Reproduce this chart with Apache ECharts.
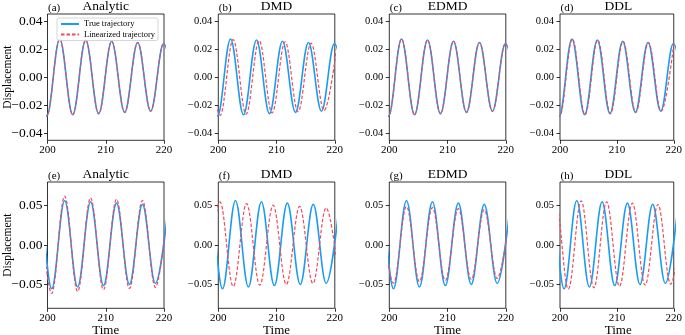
<!DOCTYPE html>
<html>
<head>
<meta charset="utf-8">
<script src="https://cdn.jsdelivr.net/npm/echarts@6/dist/echarts.min.js"></script>
<style>
  html, body { margin: 0; padding: 0; background: #fff; }
  #chart { width: 685px; height: 335px; }
</style>
</head>
<body>
<div id="chart"></div>
<script>
// panel texts
const titles = ['Analytic', 'DMD', 'EDMD', 'DDL', 'Analytic', 'DMD', 'EDMD', 'DDL'];
const tags = ['(a)', '(b)', '(c)', '(d)', '(e)', '(f)', '(g)', '(h)'];
const xTicks = [200, 210, 220];
const topTicks = [-0.04, -0.02, 0, 0.02, 0.04];
const bottomTicks = [-0.05, 0, 0.05];

// peaks and troughs, [time, displacement]
// (the library's smoothing draws the curve between them)
const topTrue = [[197.64, 0.0281], [199.87, -0.0277], [202.10, 0.0272], [204.33, -0.0268],
  [206.56, 0.0265], [208.79, -0.0260], [211.02, 0.0256], [213.25, -0.0251],
  [215.48, 0.0247], [217.71, -0.0243], [219.94, 0.0240], [222.17, -0.0236]];
const topAnalytic = topTrue; // lies on top of the true curve
const topEdmd = topTrue;     // same here
const topDmd = [[198.09, 0.0275], [200.32, -0.0272], [202.55, 0.0267], [204.78, -0.0263],
  [207.01, 0.0260], [209.24, -0.0255], [211.47, 0.0251], [213.70, -0.0246],
  [215.93, 0.0242], [218.16, -0.0238], [220.39, 0.0235]];
const topDdl = [[197.72, 0.0281], [199.95, -0.0277], [202.18, 0.0272], [204.41, -0.0268],
  [206.64, 0.0265], [208.87, -0.0260], [211.10, 0.0256], [213.33, -0.0251],
  [215.56, 0.0247], [217.79, -0.0243], [220.02, 0.0240]];

const botTrue = [[196.28, -0.0575], [198.50, 0.0580], [200.72, -0.0553], [202.95, 0.0565],
  [205.17, -0.0530], [207.40, 0.0549], [209.62, -0.0512], [211.85, 0.0532],
  [214.07, -0.0498], [216.30, 0.0516], [218.52, -0.0485], [220.75, 0.0500]];
const botAnalytic = [[198.50, 0.0640], [200.72, -0.0612], [202.95, 0.0620], [205.17, -0.0587],
  [207.40, 0.0600], [209.62, -0.0565], [211.85, 0.0582], [214.07, -0.0548],
  [216.30, 0.0565], [218.52, -0.0535], [220.75, 0.0550]];
const botDmd = [[198.02, -0.0560], [200.29, 0.0549], [202.57, -0.0523], [204.85, 0.0527],
  [207.13, -0.0506], [209.41, 0.0506], [211.68, -0.0498], [213.96, 0.0490],
  [216.24, -0.0485], [218.51, 0.0473], [220.79, -0.0465]];
const botEdmd = [[198.50, 0.0505], [200.72, -0.0482], [202.95, 0.0490], [205.17, -0.0462],
  [207.40, 0.0476], [209.62, -0.0447], [211.85, 0.0462], [214.07, -0.0435],
  [216.30, 0.0449], [218.52, -0.0422], [220.75, 0.0435]];
const botDdl = [[196.98, -0.0570], [199.23, 0.0570], [201.47, -0.0556], [203.72, 0.0562],
  [205.96, -0.0540], [208.20, 0.0548], [210.46, -0.0522], [212.72, 0.0532],
  [214.97, -0.0505], [217.22, 0.0515], [219.46, -0.0495], [221.71, 0.0500]];

const linearSets = [topAnalytic, topDmd, topEdmd, topDdl, botAnalytic, botDmd, botEdmd, botDdl];

// layout
const lefts = [47.5, 218.3, 389.3, 560];
const panelW = 116.5;
const rowTops = [14, 182];
const panelH = 126.3;
const FONT = '"Liberation Serif", "DejaVu Serif", serif';
const BLUE = '#1c9cf0';
const RED = '#f04a5c';

function fmt(v) {
  if (Math.abs(v) < 1e-9) return '0.00';
  return (v < 0 ? '\u2212' : '') + Math.abs(v).toFixed(2);
}

var chart = echarts.init(document.getElementById('chart'));

var grids = [], xAxes = [], yAxes = [], series = [], graphics = [];
for (var i = 0; i < 8; i++) {
  var row = Math.floor(i / 4), col = i % 4;
  var isTop = row === 0;
  grids.push({
    left: lefts[col], top: rowTops[row], width: panelW, height: panelH,
    show: true, borderColor: '#000', borderWidth: 0.8, backgroundColor: 'transparent'
  });
  xAxes.push({
    type: 'value', gridIndex: i, min: 200, max: 220,
    axisLine: { show: false, onZero: false },
    axisTick: { length: 3.5, lineStyle: { color: '#000', width: 0.8 }, customValues: xTicks },
    axisLabel: { customValues: xTicks, fontFamily: FONT, fontSize: 11, color: '#000', margin: 4 },
    splitLine: { show: false }
  });
  var ticks = isTop ? topTicks : bottomTicks;
  yAxes.push({
    type: 'value', gridIndex: i,
    min: isTop ? -0.045 : -0.08, max: isTop ? 0.045 : 0.08,
    axisLine: { show: false, onZero: false },
    axisTick: { length: 3.5, lineStyle: { color: '#000', width: 0.8 }, customValues: ticks },
    axisLabel: {
      customValues: ticks, formatter: fmt, fontFamily: FONT, color: '#000',
      fontSize: col === 0 ? 13.5 : 10.5, margin: col === 0 ? 5 : 6
    },
    splitLine: { show: false }
  });
  series.push({
    name: 'True trajectory', type: 'line', xAxisIndex: i, yAxisIndex: i,
    data: isTop ? topTrue : botTrue, smooth: 0.364, symbol: 'none',
    lineStyle: { color: BLUE, width: 1.6 }, itemStyle: { color: BLUE }
  });
  series.push({
    name: 'Linearized trajectory', type: 'line', xAxisIndex: i, yAxisIndex: i,
    data: linearSets[i], smooth: 0.364, symbol: 'none',
    lineStyle: { color: RED, width: 1.2, type: [3.5, 2] }, itemStyle: { color: RED }
  });

  var cx = lefts[col] + panelW / 2;
  graphics.push({
    type: 'text', x: cx, y: rowTops[row] - 7.5,
    style: { text: titles[i], font: '13.5px ' + FONT, fill: '#000', textAlign: 'center', textVerticalAlign: 'middle' }
  });
  graphics.push({
    type: 'text', x: lefts[col] + 0.5, y: rowTops[row] - 0.5,
    style: { text: tags[i], font: '11px ' + FONT, fill: '#000', textAlign: 'left', textVerticalAlign: 'bottom' }
  });
  if (col === 0) {
    graphics.push({
      type: 'text', x: 8, y: rowTops[row] + panelH / 2, rotation: Math.PI / 2,
      style: { text: 'Displacement', font: '11.5px ' + FONT, fill: '#000', textAlign: 'center', textVerticalAlign: 'middle' }
    });
  }
  if (!isTop) {
    graphics.push({
      type: 'text', x: cx, y: 331,
      style: { text: 'Time', font: '13px ' + FONT, fill: '#000', textAlign: 'center', textVerticalAlign: 'middle' }
    });
  }
}

chart.setOption({
  backgroundColor: '#fff',
  animation: false,
  legend: {
    data: ['True trajectory', 'Linearized trajectory'],
    orient: 'vertical', left: 57, top: 18,
    itemWidth: 18, itemHeight: 9, itemGap: 1.5,
    padding: [1.5, 3, 1.5, 3],
    backgroundColor: 'rgba(255,255,255,0.85)',
    borderColor: '#cccccc', borderWidth: 0.8, borderRadius: 2,
    itemStyle: { color: 'transparent', borderWidth: 0 },
    textStyle: { fontFamily: FONT, fontSize: 8.5, color: '#000' }
  },
  grid: grids,
  xAxis: xAxes,
  yAxis: yAxes,
  series: series,
  graphic: graphics
});
</script>
</body>
</html>
